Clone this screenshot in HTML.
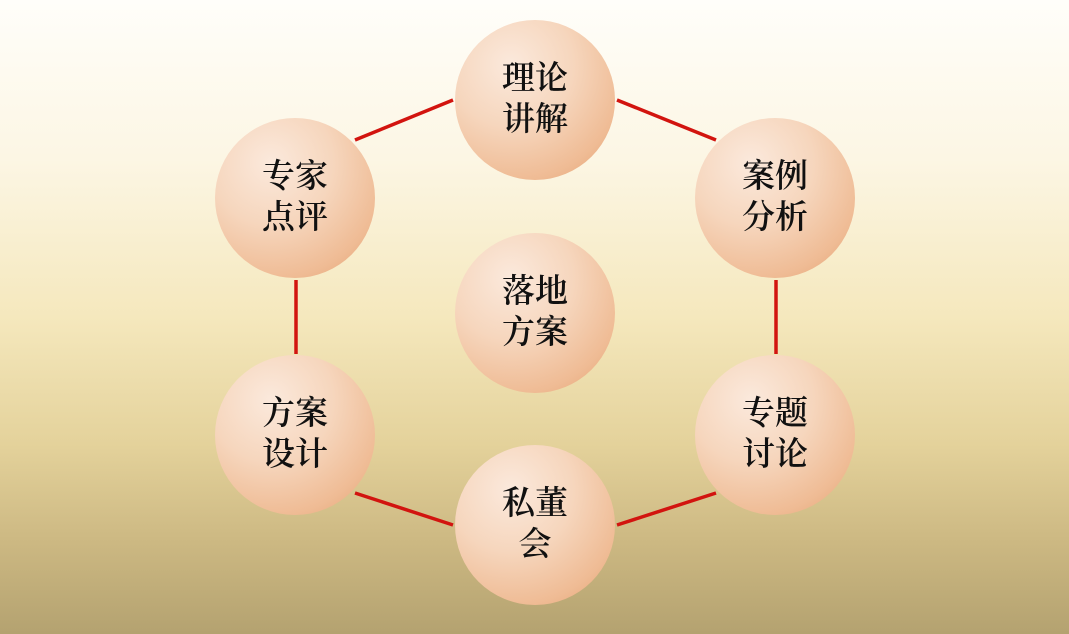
<!DOCTYPE html>
<html><head><meta charset="utf-8"><style>
html,body{margin:0;padding:0}
body{width:1069px;height:634px;overflow:hidden;background:linear-gradient(to bottom,#fffefa 0%,#fcf6e4 25%,#f5e8bd 50%,#e4d29b 70%,#cdb983 85%,#b4a270 100%);position:relative}
svg{position:absolute;left:0;top:0}
.c{position:absolute;width:160px;height:160px;border-radius:50%;background:radial-gradient(circle at 35% 28%,#fbe9dc 0%,#f6d6bd 40%,#efbb94 75%,#e39d6d 100%);display:flex;align-items:center;justify-content:center;text-align:center;font-family:"Liberation Serif","Noto Serif CJK SC",serif;font-weight:600;font-size:33px;line-height:41px;color:#111}
</style></head><body>
<svg width="1069" height="634">
<g stroke="#d2140f" stroke-width="3.5">
<line x1="453" y1="100" x2="355" y2="140"/>
<line x1="617" y1="100" x2="716" y2="140"/>
<line x1="776" y1="280" x2="776" y2="354"/>
<line x1="296" y1="280" x2="296" y2="354"/>
<line x1="355" y1="493" x2="453" y2="525"/>
<line x1="617" y1="525" x2="716" y2="493"/>
</g></svg>
<div class="c" style="left:455px;top:20px">理论<br>讲解</div>
<div class="c" style="left:695px;top:118px">案例<br>分析</div>
<div class="c" style="left:695px;top:355px">专题<br>讨论</div>
<div class="c" style="left:455px;top:445px">私董<br>会</div>
<div class="c" style="left:215px;top:355px">方案<br>设计</div>
<div class="c" style="left:215px;top:118px">专家<br>点评</div>
<div class="c" style="left:455px;top:233px">落地<br>方案</div>
</body></html>
